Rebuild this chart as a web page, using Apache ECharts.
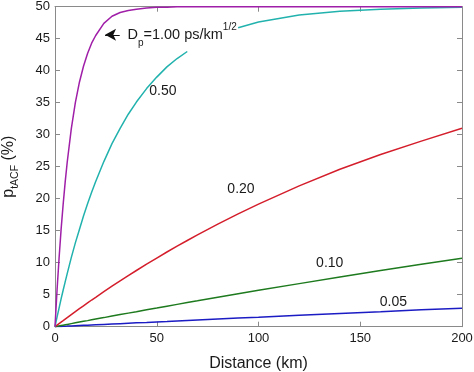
<!DOCTYPE html>
<html>
<head>
<meta charset="utf-8">
<script src="https://cdn.jsdelivr.net/npm/echarts@6/dist/echarts.min.js"></script>
<style>html,body{margin:0;padding:0;background:#fff}#c{width:474px;height:372px}</style>
</head>
<body>
<div id="c"></div>
<script>
// Distance (km) sample points
const distanceKm = [0,1,2,3,4,5,6,8,10,12,14,16,18,20,24,28,32,36,40,45,50,55,60,65,70,80,90,100,120,140,160,180,200];
// p_tACF (%) for each Dp (ps/km^1/2)
const p100 = [0,5.7,10.7,15.2,19.1,22.6,25.7,30.9,35.0,38.2,40.7,42.7,44.3,45.5,47.4,48.5,49.1,49.4,49.6,49.8,49.9,49.9,50,50,50,50,50,50,50,50,50,50,50];
const p050 = [0,1.5,2.9,4.35,5.7,7.0,8.3,10.8,13.1,15.2,17.3,19.2,21.0,22.7,25.8,28.6,31.0,33.2,35.1,37.2,39.0,40.6,41.9,43.0,null,null,46.7,47.6,48.7,49.3,49.6,49.8,49.9];
const p020 = [0,0.24,0.48,0.72,0.95,1.19,1.43,1.90,2.36,2.82,3.27,3.72,4.17,4.60,5.47,6.33,7.16,7.98,8.78,9.77,10.73,11.67,12.58,13.47,14.35,16.03,17.63,19.16,22.0,24.6,26.9,29.0,31.0];
const p010 = [0,0.06,0.12,0.18,0.24,0.30,0.36,0.48,0.60,0.72,0.84,0.95,1.07,1.19,1.42,1.66,1.89,2.12,2.35,2.64,2.92,3.21,3.49,3.77,4.04,4.59,5.14,5.68,6.73,7.76,8.77,9.75,10.7];
const p005 = [0,0.02,0.03,0.05,0.06,0.08,0.09,0.12,0.15,0.18,0.21,0.24,0.27,0.30,0.36,0.42,0.48,0.54,0.60,0.67,0.75,0.82,0.90,0.97,1.04,1.19,1.34,1.48,1.78,2.07,2.35,2.64,2.90];
// curve labels and their anchor (km, %)
const curveLabels = ['0.50','0.20','0.10','0.05'];
const labelAt = [[53,36.8],[91.4,21.5],[135,9.95],[166.3,3.9]];
const dpLabelAt = [35.6,45.6];
const arrowFrom = [31.8,45.6];
const arrowTo = [24.6,45.6];

const FONT = "'Liberation Sans', Arial, Helvetica, sans-serif";
const TXT = '#1a1a1a';
const AX = '#8a8a8a';

function pairs(vals){ return distanceKm.map((d,i)=>[d, vals[i]]); }

const baseX = {type:'value', min:0, max:200, interval:50,
  axisLine:{show:true, onZero:false, lineStyle:{color:AX, width:1}},
  axisTick:{show:true, inside:true, length:5, lineStyle:{color:AX}},
  splitLine:{show:false}};
const baseY = {type:'value', min:0, max:50, interval:5,
  axisLine:{show:true, onZero:false, lineStyle:{color:AX, width:1}},
  axisTick:{show:true, inside:true, length:5, lineStyle:{color:AX}},
  splitLine:{show:false}};

const textMark = (txt, at) => ({
  coord: at, symbol:'circle', symbolSize:0,
  label:{show:true, position:'inside', formatter:txt, color:TXT, fontSize:14, fontFamily:FONT}
});

const chart = echarts.init(document.getElementById('c'), null, {renderer:'canvas'});
chart.setOption({
  animation:false,
  backgroundColor:'#fff',
  grid:{left:55, right:12, top:6.7, bottom:45.3, containLabel:false, outerBoundsMode:'none'},
  xAxis:[
    Object.assign({}, baseX, {position:'bottom',
      axisLabel:{color:TXT, fontSize:13, fontFamily:FONT, margin:5},
      name:'Distance (km)', nameLocation:'middle', nameGap:29,
      nameTextStyle:{color:TXT, fontSize:16, fontFamily:FONT}}),
    Object.assign({}, baseX, {position:'top', axisLabel:{show:false}})
  ],
  yAxis:[
    Object.assign({}, baseY, {position:'left',
      axisLabel:{color:TXT, fontSize:13, fontFamily:FONT, margin:5},
      name:'{m|p}{s|tACF}{m| (%)}', nameLocation:'middle', nameGap:34, nameRotate:90,
      nameTextStyle:{color:TXT, fontFamily:FONT,
        rich:{
          m:{fontSize:16, color:TXT, fontFamily:FONT, lineHeight:24, verticalAlign:'middle'},
          s:{fontSize:10.5, color:TXT, fontFamily:FONT, lineHeight:11, verticalAlign:'bottom'}
        }}}),
    Object.assign({}, baseY, {position:'right', axisLabel:{show:false}})
  ],
  series:[
    {type:'line', name:'0.05', data:pairs(p005), showSymbol:false, lineStyle:{color:'#1c1cc4', width:1.5}, itemStyle:{color:'#1c1cc4'},
      markPoint:{silent:true, data:[textMark(curveLabels[3], labelAt[3])]}},
    {type:'line', name:'0.10', data:pairs(p010), showSymbol:false, lineStyle:{color:'#1e7a1e', width:1.5}, itemStyle:{color:'#1e7a1e'},
      markPoint:{silent:true, data:[textMark(curveLabels[2], labelAt[2])]}},
    {type:'line', name:'0.20', data:pairs(p020), showSymbol:false, lineStyle:{color:'#d41e2c', width:1.5}, itemStyle:{color:'#d41e2c'},
      markPoint:{silent:true, data:[textMark(curveLabels[1], labelAt[1])]}},
    {type:'line', name:'0.50', data:pairs(p050), showSymbol:false, connectNulls:false, lineStyle:{color:'#22b2ae', width:1.5}, itemStyle:{color:'#22b2ae'},
      markPoint:{silent:true, data:[textMark(curveLabels[0], labelAt[0])]}},
    {type:'line', name:'1.00', data:pairs(p100), showSymbol:false, lineStyle:{color:'#a01fa8', width:1.5}, itemStyle:{color:'#a01fa8'},
      markPoint:{silent:true, data:[{
        coord: dpLabelAt, symbol:'circle', symbolSize:0,
        label:{show:true, position:[0,0], align:'left', verticalAlign:'middle',
          formatter:'{m|D}{s|p}{m|=1.00 ps/km}{u|1/2}',
          rich:{
            m:{fontSize:14.5, color:TXT, fontFamily:FONT, lineHeight:26, verticalAlign:'middle'},
            s:{fontSize:10, color:TXT, fontFamily:FONT, lineHeight:10, verticalAlign:'bottom'},
            u:{fontSize:10, color:TXT, fontFamily:FONT, lineHeight:16, verticalAlign:'top'}
          }}
      }]},
      markLine:{silent:true, symbol:['arrow','none'], symbolSize:[9,11],
        lineStyle:{color:'#111', width:1, type:'solid'}, label:{show:false},
        data:[[{coord:arrowTo},{coord:arrowFrom}]]}}
  ]
});
</script>
</body>
</html>
